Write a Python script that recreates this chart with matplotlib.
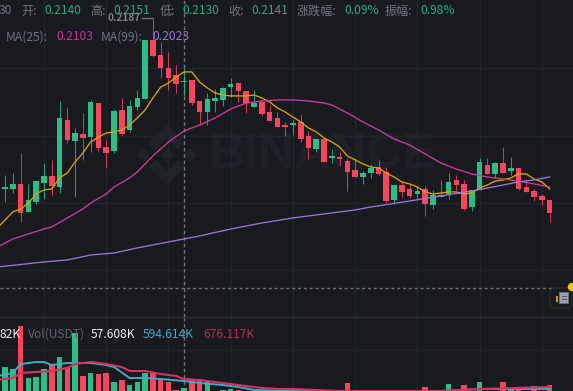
# -*- coding: utf-8 -*-
import numpy as np
import matplotlib
matplotlib.use('Agg')
import matplotlib.pyplot as plt
from matplotlib.patches import Polygon, Circle, FancyBboxPatch, Rectangle

plt.rcParams['font.family'] = ['Noto Sans CJK SC', 'DejaVu Sans']

W, H = 573, 391

# candles, price in units of 0.00001
opens = [20443,20600,20600,20638,20428,20503,20645,20698,20615,21118,20960,21013,20990,21245,20915,20885,21193,21043,21215,21275,
         21718,21605,21508,21455,21400,21418,21260,21178,21260,21268,21365,21395,21335,21215,21253,21178,21133,21080,21080,21103,
         20998,20900,20975,20833,20840,20810,20743,20690,20720,20765,20728,20518,20630,20600,20563,20600,20480,20540,20563,20668,
         20638,20465,20593,20780,20713,20795,20735,20758,20615,20585,20548,20518]
highs = [20555,20705,20720,20870,20638,20660,20795,20818,21260,21215,21058,21170,21268,21245,20968,21200,21283,21268,21343,21718,
         21875,21703,21628,21530,21510,21418,21260,21320,21350,21365,21433,21395,21335,21343,21253,21230,21178,21103,21118,21163,
         21035,20975,20983,20900,20878,20833,20833,20735,20788,20818,20765,20630,20653,20645,20623,20623,20593,20668,20720,20705,
         20668,20593,20833,20833,20803,20915,20840,20758,20675,20600,20563,20518]
lows = [20428,20503,20570,20353,20428,20488,20525,20555,20570,20945,20540,20818,20878,20885,20758,20870,21005,21028,21193,21275,
        21590,21433,21343,21320,21300,21230,21080,21080,21178,21223,21290,21253,21170,21215,21148,21110,21065,20998,21005,20953,
        20825,20878,20803,20795,20773,20585,20690,20638,20683,20705,20495,20488,20540,20533,20525,20398,20450,20540,20525,20593,
        20443,20435,20593,20713,20683,20720,20705,20593,20578,20510,20480,20353]
closes = [20540,20615,20638,20420,20518,20660,20698,20623,21133,20968,21020,20983,21253,20908,20870,21185,21013,21223,21283,21718,
          21598,21508,21433,21388,21410,21245,21178,21275,21283,21358,21388,21335,21245,21245,21163,21110,21065,21065,21095,20975,
          20908,20975,20803,20848,20825,20728,20690,20720,20758,20713,20510,20630,20578,20548,20585,20488,20555,20555,20653,20630,
          20450,20593,20803,20713,20795,20720,20758,20600,20578,20540,20518,20420]

ma7 = [20308,20368,20428,20450,20495,20563,20593,20600,20683,20720,20803,20870,20953,20990,21020,21028,21043,21080,21133,21193,
       21283,21365,21395,21440,21478,21478,21403,21358,21320,21305,21298,21298,21298,21305,21283,21253,21208,21178,21140,21103,
       21058,21028,20983,20953,20915,20848,20818,20788,20765,20758,20720,20690,20653,20638,20615,20578,20563,20570,20578,20578,
       20563,20570,20608,20630,20660,20668,20683,20713,20713,20675,20653,20600]

ma25_idx = [0,2,4,6,7,9,11,12,14,15,17,18,20,22,24,26,28,30,32,34,36,38,40,42,43,45,47,49,51,53,55,57,59,61,63,65,67,69,71]
ma25 = [20165,20225,20263,20300,20315,20383,20450,20495,20563,20615,20683,20728,20848,20953,21035,21080,21133,21200,21245,21260,
        21268,21268,21260,21245,21230,21170,21103,21043,20975,20930,20863,20795,20750,20713,20690,20675,20660,20638,20615]

ma99_idx = [0,6,9,12,15,18,22,24,26,30,34,38,42,46,48,53,57,61,65,67,69,71]
ma99 = [20015,20053,20068,20105,20120,20158,20203,20225,20248,20300,20345,20383,20413,20443,20465,20510,20548,20585,20630,20653,20668,20690]

# volume, K
volume = [2520,1440,1320,3900,780,840,1320,1560,2040,1440,3480,900,1080,1020,1080,540,660,360,540,1080,
          1080,720,540,60,180,720,720,540,0,60,120,60,0,0,0,0,0,0,0,0,
          0,0,0,0,0,480,0,0,0,0,0,0,0,0,0,240,0,0,420,0,
          360,0,540,0,0,540,60,180,0,300,0,360]

vol_ma1_idx = [0,2,3,5,6,7,9,10,12,14,15,17,19,21,24,26,29,31,33,38,57,62,71]
vol_ma1 = [900,1080,1620,1740,1740,1560,1680,1680,1680,1560,1440,780,780,720,600,480,360,240,60,0,0,120,120]
vol_ma2_idx = [0,2,3,5,7,9,10,12,14,16,17,19,21,23,24,26,29,31,34,36,38,41,44,57,62,71]
vol_ma2 = [660,780,1080,1140,1200,1380,1620,1740,1620,1440,1200,1200,1020,900,720,660,480,360,180,120,120,60,0,0,120,240]

BG = '#181a20'
GREEN = '#2ebd85'
RED = '#f6465d'
GRID = '#22262c'
LABEL = '#6f7681'

opens, highs, lows, closes = [np.array(a) / 100000 for a in (opens, highs, lows, closes)]
ma7, ma25, ma99 = [np.array(a) / 100000 for a in (ma7, ma25, ma99)]
xs = np.arange(len(opens))
colors = [GREEN if c >= o else RED for o, c in zip(opens, closes)]

fig = plt.figure(figsize=(W / 100, H / 100), dpi=100, facecolor=BG)

# watermark behind everything, pixel coordinates
bg = fig.add_axes([0, 0, 1, 1], zorder=0)
bg.set_xlim(0, W)
bg.set_ylim(H, 0)
bg.axis('off')
logo = [
    [(38.73,53.2),(63.32,28.62),(87.92,53.22),(102.22,38.91),(63.32,0),(24.42,38.9)],
    [(0,63.31),(14.3,49),(28.61,63.31),(14.31,77.61)],
    [(48.79,63.31),(63.31,48.79),(77.83,63.31),(63.31,77.83)],
    [(98,63.31),(112.3,49),(126.61,63.3),(112.31,77.61)],
    [(38.73,73.41),(63.32,98),(87.92,73.39),(102.23,87.69),(63.32,126.61),(24.41,87.7)],
]
for pts in logo:
    pts = [(137 + px * 0.474, 125 + py * 0.474) for px, py in pts]
    bg.add_patch(Polygon(pts, closed=True, facecolor='#202329', edgecolor='none'))
bg.text(323, 155, 'BINANCE', color='#1e2127', fontsize=36, fontweight='bold',
        ha='center', va='center', family='Liberation Sans')

# price pane
ax = fig.add_axes([0, 74 / H, 1, 317 / H], zorder=1)
ax.patch.set_alpha(0)
ax.set_xlim(0.347, 74.0)
ax.set_ylim(0.220175 - 0.000075 * 317, 0.220175)
ax.vlines(xs, lows, highs, colors=colors, linewidth=0.75, alpha=0.8, zorder=3)
ax.bar(xs, closes - opens, bottom=opens, width=0.72, color=colors, linewidth=0, zorder=4)
ax.plot(xs, ma7, color='#d9a406', lw=0.95, zorder=5)
ax.plot(ma25_idx, ma25, color='#cf3a9d', lw=0.95, zorder=5)
ax.plot(ma99_idx, ma99, color='#9b74dc', lw=0.95, zorder=5)
ax.axhline(0.198575, color='#6e7278', lw=1, dashes=(2.2, 2), zorder=2)
ax.plot([18.6, 20.0], [0.218825, 0.218825], color='#6e7278', lw=1, zorder=6)

# volume pane
vax = fig.add_axes([0, 0, 1, 73 / H], zorder=1)
vax.patch.set_alpha(0)
vax.set_xlim(0.347, 74.0)
vax.set_ylim(0, 73 * 60)
vax.bar(xs, volume, width=0.72, color=colors, linewidth=0, zorder=3)
vax.plot(vol_ma1_idx, vol_ma1, color='#41aac8', lw=1.4, zorder=4)
vax.plot(vol_ma2_idx, vol_ma2, color='#d6315f', lw=1.5, zorder=5)

for a, yticks in ((ax, [0.215075, 0.21001, 0.20495, 0.1999]), (vax, [2460])):
    a.set_xticks(np.arange(6, 74, 8))
    a.set_yticks(yticks)
    a.tick_params(length=0, labelbottom=False, labelleft=False)
    a.grid(True, color=GRID, lw=1)
    a.set_axisbelow(True)
    for s in a.spines.values():
        s.set_visible(False)
    a.axvline(24, color='#74777d', lw=1, dashes=(2.6, 2), zorder=2)
ax.spines['bottom'].set_visible(True)
ax.spines['bottom'].set_color('#2c3036')
ax.spines['bottom'].set_linewidth(1)

# small tag icon, bottom right
deco = fig.add_axes([0, 0, 1, 1], zorder=6)
deco.set_xlim(0, W)
deco.set_ylim(H, 0)
deco.axis('off')
deco.add_patch(FancyBboxPatch((550, 288), 22, 20, boxstyle='round,pad=0,rounding_size=5',
                              facecolor=BG, edgecolor='#2a2e35', lw=0.8))
deco.add_patch(Rectangle((559, 292), 9, 11, facecolor='#9aa0a6', edgecolor='#6e7278', lw=0.6))
deco.plot([561.5, 565.5], [296, 296], color='#555a60', lw=0.7)
deco.plot([561.5, 565.5], [299, 299], color='#555a60', lw=0.7)
deco.add_patch(Rectangle((556, 296), 2, 6, facecolor='#c99a0a', edgecolor='none'))
deco.add_patch(Circle((572, 287), 4.2, facecolor='#f0c419', edgecolor='none'))


def label(x, y, s, color, size=8.7, **kw):
    fig.text(x / W, 1 - y / H, s, color=color, fontsize=size, va='center', ha='left', **kw)


label(-1, 11, '30', LABEL)
for x, s in [(21, '开:'), (90, '高:'), (160, '低:'), (228, '收:'), (297, '涨跌幅:'), (385, '振幅:')]:
    label(x, 11, s, LABEL)
for x, s in [(44, '0.2140'), (113, '0.2151'), (182, '0.2130'), (251, '0.2141'), (344, '0.09%'), (420, '0.98%')]:
    label(x, 11, s, '#2aaa7b')
label(6, 37, 'MA(25):', LABEL)
label(56, 37, '0.2103', '#c9379a')
label(101, 37, 'MA(99):', LABEL)
label(152, 37, '0.2023', '#9a72dc')
label(108, 18, '0.2187', '#7f8186', size=7.2, fontweight='bold')
label(-1, 334, '82K', '#eaecef')
label(28, 334, 'Vol(USDT)', '#5e6470')
label(91, 334, '57.608K', '#eaecef')
label(143, 334, '594.614K', '#4aa9c4')
label(203, 334, '676.117K', '#b82e52')

fig.savefig('out.png', dpi=100, facecolor=BG)
